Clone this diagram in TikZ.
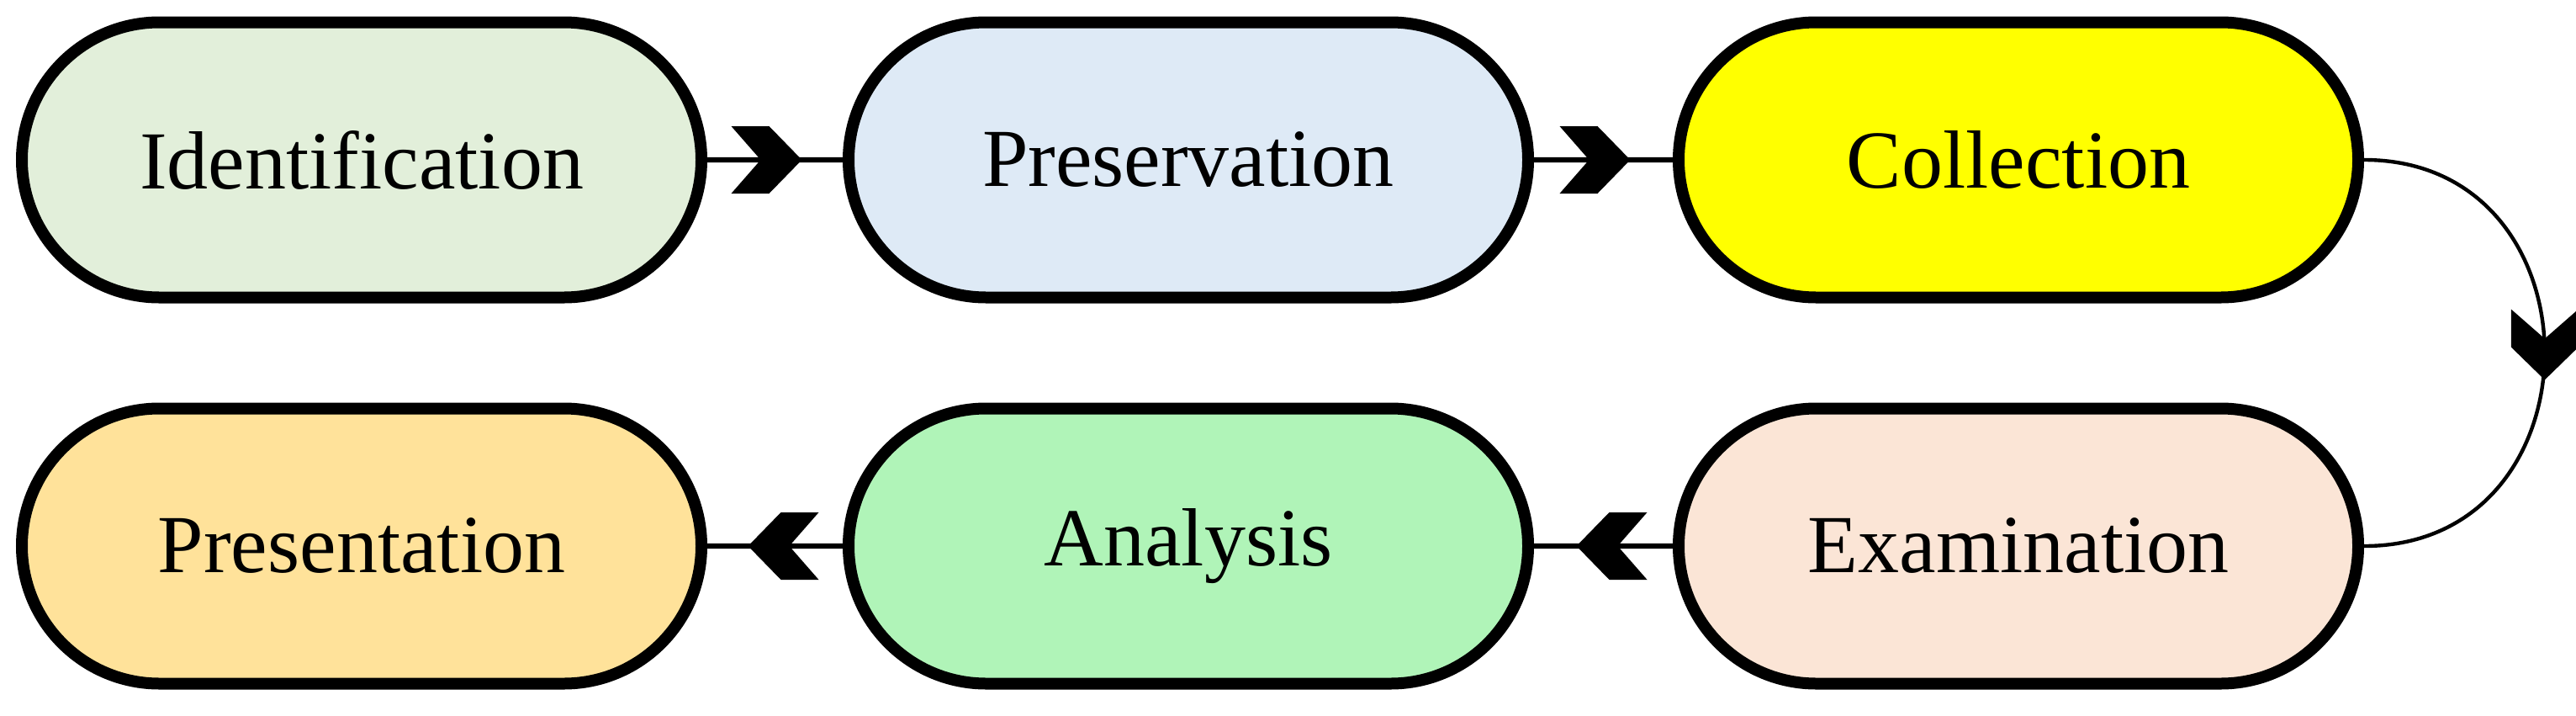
\documentclass[tikz,border=0pt]{standalone}
\usepackage{fontspec}
\setmainfont{Liberation Serif}
\usetikzlibrary{shapes.misc,decorations.markings}
\definecolor{cA}{HTML}{E2EFDA}
\definecolor{cB}{HTML}{DEEAF6}
\definecolor{cC}{HTML}{FFFF00}
\definecolor{cD}{HTML}{FBE5D6}
\definecolor{cE}{HTML}{B0F4B8}
\definecolor{cF}{HTML}{FFE29A}
\tikzset{
  stage/.style={rounded rectangle, draw=black, line width=3.5pt, minimum width=202pt, minimum height=81.75pt, inner sep=0pt, font=\fontsize{24.5pt}{28pt}\selectfont},
  chev/.style={decoration={markings, mark=at position 0.5 with {\fill (-13pt,10pt)--(-1.75pt,10pt)--(8pt,0pt)--(-1.75pt,-10pt)--(-13pt,-10pt)--(-4.25pt,0pt)--cycle;}}, postaction={decorate}},
  conn/.style={line width=1.6pt, chev},
}
\begin{document}
\begin{tikzpicture}[x=1pt,y=1pt]
\useasboundingbox (0,0) rectangle (765.75,212.5);
\node[stage, fill=cA] (id) at (107.5,165) {Identification};
\node[stage, fill=cB] (pr) at (353.25,165) {Preservation};
\node[stage, fill=cC] (co) at (600,165) {Collection};
\node[stage, fill=cD] (ex) at (600,50.25) {Examination};
\node[stage, fill=cE] (an) at (353.25,50.25) {Analysis};
\node[stage, fill=cF] (pn) at (107.5,50.25) {Presentation};
\draw[conn] (id) -- (pr);
\draw[conn] (pr) -- (co);
\draw[line width=1.1pt, chev] (co.east) to[out=0,in=0,looseness=1.6] (ex.east);
\draw[conn] (ex) -- (an);
\draw[conn] (an) -- (pn);
\end{tikzpicture}
\end{document}
